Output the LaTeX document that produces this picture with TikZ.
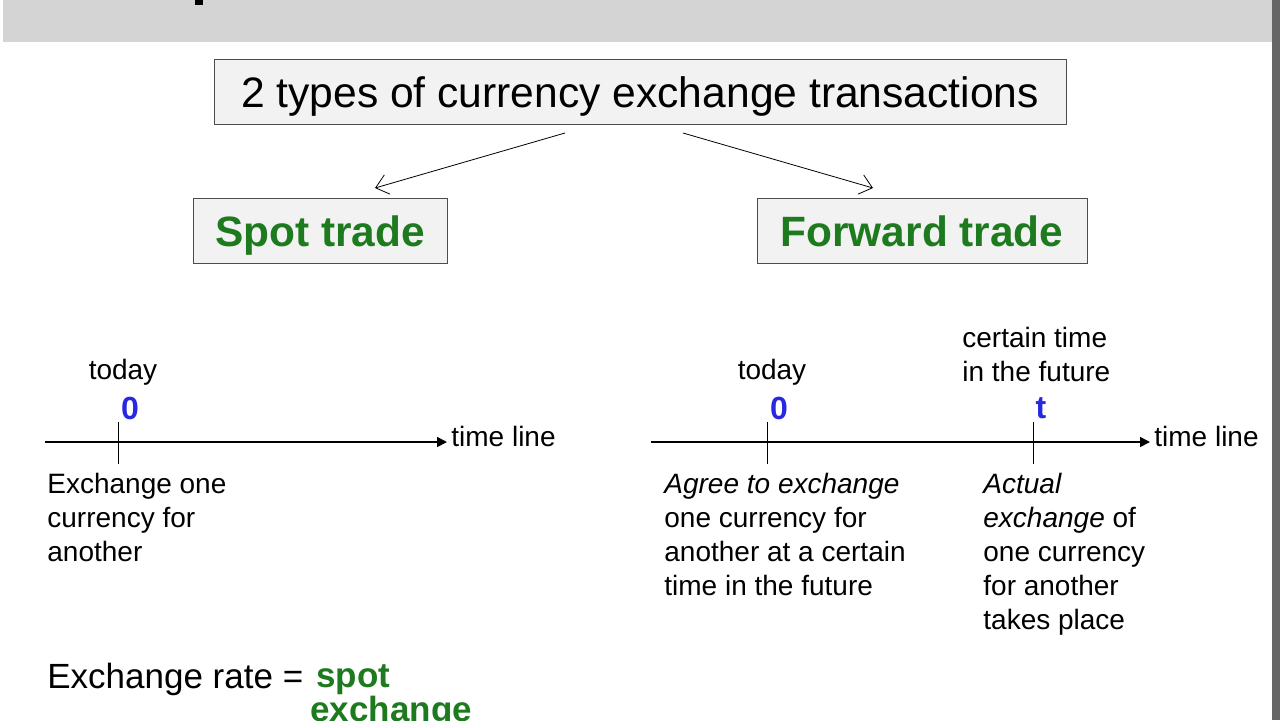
\documentclass[tikz,border=0pt]{standalone}
\usepackage{fontspec}
\setmainfont{Liberation Sans}
\usetikzlibrary{positioning}
\usetikzlibrary{arrows.meta}
\definecolor{tradegreen}{RGB}{30,122,30}
\definecolor{zeroblue}{RGB}{40,40,225}
\definecolor{boxgray}{RGB}{242,242,242}
\definecolor{bargray}{RGB}{212,212,212}
\tikzset{
  headbox/.style={draw=black!70,fill=boxgray,minimum height=32.5pt,inner sep=0pt,text height=15pt,text depth=0pt},
  tradebox/.style={headbox,text=tradegreen,font=\fontsize{21.2}{24}\selectfont\bfseries},
  body/.style={anchor=west,inner sep=0pt,align=left,font=\fontsize{14}{17}\selectfont},
  mark0/.style={inner sep=0pt,text=zeroblue,font=\fontsize{16}{18}\selectfont\bfseries},
  timeline/.style={-{Triangle[length=5pt,width=5pt]},thick},
  split/.style={-{Straight Barb[length=6pt,width=10pt]},thin}
}
\begin{document}
\begin{tikzpicture}[x=0.5pt,y=-0.5pt]
        \useasboundingbox (0,0) rectangle (1280,720);
        \fill[white] (0,0) rectangle (1280,720);
        \fill[bargray] (3,0) rectangle (1272,42);
        \fill[black!60] (1272,0) rectangle (1280,720);
        \fill[black] (195,0) rectangle (203,5);
        
        \node[headbox,minimum width=426pt,font=\fontsize{21.3}{24}\selectfont] (title) at (640,92) {2 types of currency exchange transactions};
        \node[tradebox,minimum width=127pt] (spot) at (320,231) {Spot trade};
        \node[tradebox,minimum width=165pt] (fwd) at (922,231) {Forward trade};
        \coordinate (tl) at (565,133);
        \coordinate (tr) at (683,133);
        \draw[split] (tl) -- (375,188);
        \draw[split] (tr) -- (873,188);
        
        % spot time line
        \coordinate (sa) at (45,442);
        \coordinate (sb) at (447,442);
        \draw[timeline] (sa) -- (sb);
        \node[body,right=2pt of sb,yshift=3pt] (slab) {time line};
        \draw (118,422) -- (118,464);
        \node[body,anchor=center] (stoday) at (123,372) {today};
        \node[mark0] (szero) at (130,408) {0};
        \node[body,anchor=north west] (sdesc) at (47,473) {Exchange one\\currency for\\another};
        
        % forward time line
        \coordinate (fa) at (651,442);
        \coordinate (fb) at (1150,442);
        \draw[timeline] (fa) -- (fb);
        \node[body,right=2pt of fb,yshift=3pt] (flab) {time line};
        \draw (767,422) -- (767,464);
        \draw (1033,422) -- (1033,464);
        \node[body,anchor=center] (ftoday) at (772,372) {today};
        \node[mark0] (fzero) at (779,408) {0};
        \node[body,anchor=north west] (future) at (962,327) {certain time\\in the future};
        \node[mark0] (ft) at (1041,408) {t};
        \node[body,anchor=north west] (agree) at (664,473) {\textit{Agree to exchange}\\one currency for\\another at a certain\\time in the future};
        \node[body,anchor=north west] (actual) at (983,473) {\textit{Actual}\\\textit{exchange} of\\one currency\\for another\\takes place};
        
        \node[body,font=\fontsize{17.5}{19}\selectfont] (rate) at (47,679) {Exchange rate =};
        \node[body,text=tradegreen,font=\fontsize{17.5}{19}\selectfont\bfseries,anchor=north west] (spotx) at (316,664) {spot};
        \node[body,text=tradegreen,font=\fontsize{17.5}{19}\selectfont\bfseries,anchor=north west] (exch) at (310,696) {exchange};
    \end{tikzpicture}
\end{document}
